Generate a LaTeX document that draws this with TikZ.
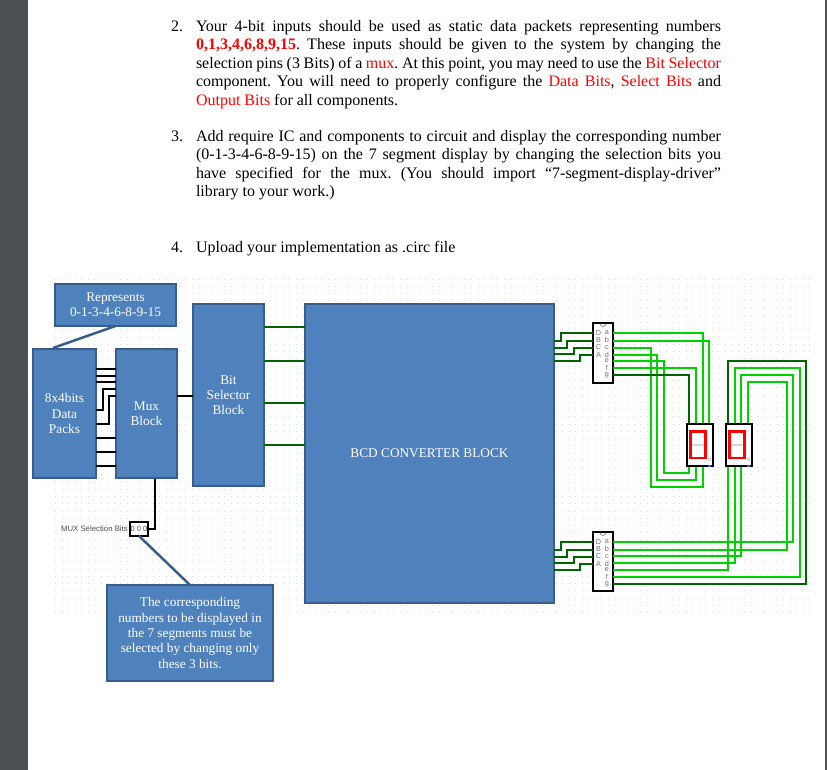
\documentclass[tikz,border=0pt]{standalone}
\usepackage{xcolor}
\usepackage{fontspec}
\setmainfont{Liberation Serif}
\setsansfont{Liberation Sans}
\usetikzlibrary{positioning, calc}

\definecolor{blockfill}{HTML}{4F81BD}
\definecolor{blockline}{HTML}{385D8A}
\definecolor{wireon}{HTML}{00D200}
\definecolor{wiredark}{HTML}{006400}
\definecolor{pagestrip}{HTML}{4C5053}

\tikzset{
  para/.style={anchor=north west, inner sep=0pt, outer sep=0pt, font=\fontsize{16}{18.4}\selectfont\frenchspacing},
  block/.style={draw=blockline, fill=blockfill, line width=2.6pt, text=white, align=center, inner sep=0pt, outer sep=0pt, font=\fontsize{13.3}{15.3}\selectfont},
  chip/.style={draw=black, fill=white, line width=1.2pt, inner sep=0pt, outer sep=0pt},
  pinlabel/.style={inner sep=0pt, text=black!55, font=\sffamily\fontsize{7.3}{7.3}\selectfont},
  busline/.style={line width=2pt, black},
  darkwire/.style={line width=2pt, wiredark},
  litwire/.style={line width=2pt, wireon},
  callout/.style={line width=2.5pt, blockline}
}

\begin{document}
\begin{tikzpicture}[x=1pt, y=-1pt]
        \useasboundingbox (0,0) rectangle (827,770);
        \fill[pagestrip] (0,0) rectangle (28,770);
        \fill[pagestrip] (825,0) rectangle (827,770);

        % Instruction text
        \node[para] (num2) at (171,20.5) {2.};
        \node[para, text width=525pt, align=justify] (item2) at (196,20.5) {Your 4-bit inputs should be used as static data packets representing numbers\linebreak
          \textcolor{red}{\textbf{0,1,3,4,6,8,9,15}}. These inputs should be given to the system by changing the\linebreak
          selection pins (3 Bits) of a \textcolor{red}{mux}. At this point, you may need to use the \textcolor{red}{Bit Selector}\linebreak
          component. You will need to properly configure the \textcolor{red}{Data Bits}, \textcolor{red}{Select Bits} and\linebreak
          \textcolor{red}{Output Bits} for all components.};
        \node[para] (num3) at (171,130.5) {3.};
        \node[para, text width=525pt, align=justify] (item3) at (196,130.5) {Add require IC and components to circuit and display the corresponding number\linebreak
          (0-1-3-4-6-8-9-15) on the 7 segment display by changing the selection bits you\linebreak
          have specified for the mux. (You should import “7-segment-display-driver”\linebreak
          library to your work.)};
        \node[para] (num4) at (171,241.5) {4.};
        \node[para] (item4) at (196,241.5) {Upload your implementation as .circ file};

        % Dot grid
        \foreach \row in {279,286.25,...,614}
          \draw[black!14, line width=0.8pt, dash pattern=on 0.8pt off 5.7pt] (55,\row) -- (814,\row);

        % Blocks
        \node[block, minimum width=121pt, minimum height=42pt] (represents) at (115.5,305) {Represents\\0-1-3-4-6-8-9-15};
        \node[block, minimum width=63pt, minimum height=129pt] (packs) at (64.5,413.5) {8x4bits\\Data\\Packs};
        \node[block, minimum width=61pt, minimum height=129pt] (mux) at (146.5,413.5) {Mux\\Block};
        \node[block, minimum width=71pt, minimum height=182pt] (bitsel) at (228.5,395) {Bit\\Selector\\Block};
        \node[block, minimum width=249pt, minimum height=299pt] (bcd) at (429.5,453.5) {BCD CONVERTER BLOCK};
        \node[block, minimum width=166pt, minimum height=96pt] (note) at (190,633) {The corresponding\\numbers to be displayed in\\the 7 segments must be\\selected by changing only\\these 3 bits.};

        % Selection input
        \node[chip, minimum width=18pt, minimum height=14pt] (sel) at (139,529) {};
        \node[pinlabel, text=black!70, font=\sffamily\fontsize{7.5}{7.5}\selectfont] (seltext) at (sel) {0 0 0};
        \node[pinlabel, anchor=east, text=black!70, font=\sffamily\fontsize{7.8}{7.8}\selectfont] (sellabel) at (128,529) {MUX Selection Bits};

        % Callout lines
        \coordinate (packtip) at (53,348);
        \draw[callout] (represents.south) -- (packtip);
        \draw[callout] (sel.south) -- (note.north);

        % Packs to mux
        \foreach \y in {369,376,382,438,452,466}
          \draw[busline] (packs.east |- 0,\y) -- (mux.west |- 0,\y);
        \draw[busline] (packs.east |- 0,410) -| (103,389) -- (mux.west |- 0,389);
        \draw[busline] (packs.east |- 0,424) -| (109,396) -- (mux.west |- 0,396);
        \draw[busline] (mux.east |- 0,396) -- (bitsel.west |- 0,396);
        \draw[busline] (155,479) |- (sel.east);

        % Bit selector to converter
        \foreach \y in {327,361,403,445}
          \draw[darkwire] (bitsel.east |- 0,\y) -- (bcd.west |- 0,\y);

        % Decoder chips
        \node[chip, minimum width=20pt, minimum height=60pt] (decup) at (603,353) {};
        \node[chip, minimum width=20pt, minimum height=59pt] (declow) at (603,561.5) {};

        % Decoder inputs
        \foreach \chip/\dy in {decup/0, declow/209} {
          \foreach \yin/\ypin/\x in {341/333/561, 348/341/567, 354/348/574, 361/355/580}
            \draw[darkwire] (bcd.east |- 0,\yin+\dy) -| (\x,\ypin+\dy) -- (\chip.west |- 0,\ypin+\dy);
          \foreach \pin/\y in {D/333, B/340, C/347, A/354.5}
            \node[pinlabel] (\chip\pin) at (598.5,\y+\dy) {\pin};
          \foreach \pin/\y in {a/333, b/340, c/347.5, d/354.5, e/361, f/368, g/375}
            \node[pinlabel] (\chip\pin) at (607,\y+\dy) {\pin};
          \draw[black!55, line width=0.6pt] (600,323.5+\dy) arc[start angle=180, end angle=360, radius=3pt];
        }

        % Display pins
        \foreach \pinname/\x in {dA/689, dB/696, dC/703, dD/709, eA/728, eB/735, eC/741, eD/748}
          \coordinate (t\pinname) at (\x,424);
        \foreach \pinname/\x in {dA/689, dB/696, dC/703, eA/728, eB/735, eC/741}
          \coordinate (b\pinname) at (\x,466);

        % Upper decoder to left display
        \draw[litwire] (decup.east |- 0,333) -| (tdC);
        \draw[litwire] (decup.east |- 0,341) -| (tdD);
        \draw[litwire] (decup.east |- 0,348) -| (651,487) -| (bdC);
        \draw[litwire] (decup.east |- 0,355) -| (657,480) -| (bdB);
        \draw[litwire] (decup.east |- 0,361) -| (664,473) -| (bdA);
        \draw[litwire] (decup.east |- 0,368) -| (tdB);
        \draw[darkwire] (decup.east |- 0,375) -| (tdA);

        % Lower decoder to right display
        \draw[litwire] (declow.east |- 0,542) -| (793,375) -| (teC);
        \draw[litwire] (declow.east |- 0,550) -| (787,382) -| (teD);
        \draw[litwire] (declow.east |- 0,556) -| (beC);
        \draw[litwire] (declow.east |- 0,563) -| (beB);
        \draw[litwire] (declow.east |- 0,570) -| (beA);
        \draw[litwire] (declow.east |- 0,577) -| (800,368) -| (teB);
        \draw[darkwire] (declow.east |- 0,584) -| (806,361) -| (teA);

        % Seven segment displays
        \node[chip, minimum width=26pt, minimum height=42pt] (dispa) at (700,445) {};
        \node[chip, minimum width=26pt, minimum height=42pt] (dispb) at (739,445) {};
        \foreach \disp in {dispa, dispb} {
          \draw[black!15, line width=2pt] ($(\disp.center)+(-9,0)$) -- ($(\disp.center)+(6,0)$);
          \draw[red, line width=2.7pt] ($(\disp.center)+(-9.5,-13.7)$) rectangle ($(\disp.center)+(5.5,13)$);
          \fill[black!15] ($(\disp.center)+(8,13)$) rectangle ($(\disp.center)+(11,16)$);
          \fill[blue!70] ($(\disp.south east)+(-5,-1)$) rectangle ($(\disp.south east)+(-2.5,1)$);
        }
\end{tikzpicture}
\end{document}
